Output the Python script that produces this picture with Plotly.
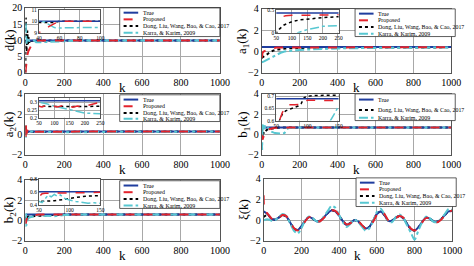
import plotly.graph_objects as go

# ---------------- data ----------------
SERIES_NAMES = ["True", "Proposed", "Dong, Liu, Wang, Bao, & Cao, 2017", "Karra, & Karim, 2009"]
X_TICKS = [0, 200, 400, 600, 800, 1000]
K_ENDS = [0, 1000]

# d(k)
D_TRUE = [10, 10]
D_PROP_K = [0, 3, 6, 10, 15, 20, 30, 40, 45, 50, 55, 60, 100, 1000]
D_PROP = [0, 2.2, 4.0, 5.5, 6.6, 7.4, 8.4, 9.0, 9.3, 9.55, 9.8, 10.0, 10.0, 10.0]
D_DONG_K = [0, 2, 4, 6, 8, 10, 13, 16, 20, 25, 30, 40, 55, 60, 1000]
D_DONG = [0, 17, 12.5, 6.5, 10.5, 13, 8.5, 11, 9.3, 10.4, 9.8, 9.9, 9.9, 10, 10]
D_KARRA_K = [0, 2, 4, 6, 8, 12, 16, 20, 30, 40, 45, 55, 60, 80, 100, 200, 300, 1000]
D_KARRA = [15, 15, 11, 9, 10.5, 9.5, 10.2, 9.8, 10.1, 10.0, 9.95, 9.45, 9.42, 9.45, 9.5, 9.8, 10, 10]

# a1(k)
A1_TRUE = [0.43, 0.43]
A1_PROP_K = [0, 2, 5, 10, 20, 30, 40, 50, 60, 80, 100, 250, 1000]
A1_PROP = [-0.6, -0.3, -0.1, 0.0, 0.1, 0.18, 0.24, 0.28, 0.33, 0.37, 0.38, 0.39, 0.40]
A1_DONG_K = [0, 5, 10, 20, 30, 40, 50, 60, 75, 100, 125, 150, 200, 250, 400, 1000]
A1_DONG = [-0.6, -0.55, -0.5, -0.4, -0.25, -0.1, 0.0, 0.08, 0.17, 0.24, 0.28, 0.30, 0.33, 0.35, 0.37, 0.39]
A1_KARRA_K = [0, 5, 10, 20, 30, 50, 75, 100, 120, 150, 200, 250, 300, 400, 600, 1000]
A1_KARRA = [-1.0, -1.0, -0.95, -0.85, -0.75, -0.55, -0.3, -0.12, 0.0, 0.07, 0.14, 0.19, 0.23, 0.29, 0.34, 0.38]

# a2(k)
A2_TRUE = [0.31, 0.31]
A2_PROP_K = [0, 1, 2, 3, 4, 5, 7, 10, 15, 20, 30, 40, 50, 60, 75, 90, 100, 110, 125, 140, 150, 160, 175, 190, 200, 210, 225, 240, 250, 300, 1000]
A2_PROP = [0, 1.2, -0.2, 0.9, 0.0, 0.6, 0.1, 0.45, 0.2, 0.33, 0.26, 0.28, 0.275, 0.27, 0.28, 0.27, 0.275, 0.27, 0.278, 0.27, 0.275, 0.268, 0.276, 0.27, 0.275, 0.28, 0.285, 0.295, 0.305, 0.31, 0.31]
A2_DONG_K = [0, 1, 2, 3, 5, 8, 12, 20, 30, 50, 100, 150, 200, 250, 400, 1000]
A2_DONG = [0, 0.9, 0.1, 0.6, 0.2, 0.4, 0.25, 0.3, 0.27, 0.275, 0.272, 0.27, 0.272, 0.275, 0.29, 0.305]
A2_KARRA_K = [0, 1, 2, 3, 5, 8, 12, 20, 30, 50, 75, 100, 150, 200, 250, 300, 500, 1000]
A2_KARRA = [0, 0.5, -0.3, 0.4, 0.1, 0.35, 0.25, 0.32, 0.3, 0.30, 0.29, 0.275, 0.25, 0.23, 0.225, 0.24, 0.28, 0.3]

# b1(k)
B1_TRUE = [0.69, 0.69]
B1_PROP_K = [0, 2, 4, 6, 10, 15, 20, 30, 40, 50, 55, 60, 65, 70, 80, 90, 95, 100, 120, 150, 1000]
B1_PROP = [0, -0.3, -0.5, -0.4, -0.15, 0.15, 0.35, 0.5, 0.56, 0.585, 0.6, 0.635, 0.65, 0.665, 0.665, 0.668, 0.675, 0.684, 0.683, 0.685, 0.688]
B1_DONG_K = [0, 2, 4, 6, 10, 15, 20, 30, 40, 50, 55, 60, 65, 70, 75, 80, 85, 90, 95, 100, 110, 130, 150, 300, 1000]
B1_DONG = [0, 0.6, -0.4, 0.3, 0.1, 0.4, 0.35, 0.5, 0.55, 0.58, 0.6, 0.628, 0.64, 0.645, 0.65, 0.655, 0.66, 0.67, 0.695, 0.7, 0.703, 0.704, 0.705, 0.695, 0.69]
B1_KARRA_K = [0, 2, 4, 6, 10, 15, 20, 30, 40, 50, 70, 100, 120, 130, 137, 145, 150, 170, 200, 1000]
B1_KARRA = [1.0, -1.5, 0.3, 1.0, 0.5, 0.9, 0.6, 0.75, 0.5, 0.3, 0.15, 0.1, 0.15, 0.4, 0.6, 0.635, 0.66, 0.69, 0.69, 0.69]

# b2(k)
B2_TRUE = [0.6, 0.6]
B2_PROP_K = [0, 2, 4, 6, 10, 15, 20, 30, 40, 48, 50, 55, 60, 80, 100, 150, 1000]
B2_PROP = [0, -0.3, -0.1, 0.1, 0.25, 0.35, 0.42, 0.48, 0.5, 0.5, 0.52, 0.57, 0.575, 0.58, 0.585, 0.59, 0.6]
B2_DONG_K = [0, 2, 4, 6, 10, 15, 20, 30, 40, 50, 60, 75, 90, 100, 110, 126, 140, 150, 200, 300, 1000]
B2_DONG = [0, 0.5, 0.2, 0.45, 0.3, 0.4, 0.38, 0.42, 0.44, 0.45, 0.455, 0.46, 0.48, 0.5, 0.51, 0.53, 0.55, 0.57, 0.58, 0.6, 0.6]
B2_KARRA_K = [0, 2, 3, 5, 8, 12, 20, 30, 40, 50, 55, 60, 65, 70, 75, 80, 85, 90, 95, 100, 110, 120, 130, 140, 150, 200, 300, 1000]
B2_KARRA = [0, -0.6, 0.7, -0.5, -0.2, 0.1, 0.3, 0.35, 0.4, 0.45, 0.43, 0.5, 0.55, 0.52, 0.56, 0.53, 0.55, 0.5, 0.48, 0.47, 0.45, 0.43, 0.42, 0.43, 0.42, 0.55, 0.6, 0.6]

# xi(k)
XI_K = list(range(0, 1001, 20))
XI_TRUE = [0.85, 0.6, 0.15, 0.05, 0.25, 0.5, 0.35, -0.2, -0.8, -0.95, -0.6, -0.05, 0.3, 0.15, -0.1, -0.05, 0.3, 0.7, 0.95, 0.85,
           0.45, -0.1, -0.45, -0.25, 0.0, -0.1, -0.5, -0.8, -0.65, -0.05, 0.6, 0.85, 0.5, -0.05, -0.05, 0.25, 0.4, 0.2, -0.35, -0.85,
           -1.0, -0.7, -0.15, 0.25, 0.15, -0.1, -0.15, 0.1, 0.5, 0.85, 0.9]
XI_PROP_K = [0, 2, 5, 10] + list(range(20, 1001, 20))
XI_PROP = [2.4, 1.1, 0.9, 0.8,
           0.65, 0.2, 0.0, 0.2, 0.5, 0.4, -0.15, -0.75, -1.0, -0.7, -0.1, 0.3, 0.2, -0.1, -0.1, 0.25, 0.65, 0.95, 0.9, 0.5,
           -0.05, -0.4, -0.3, 0.0, -0.05, -0.45, -0.8, -0.7, -0.15, 0.5, 0.85, 0.6, 0.0, -0.1, 0.2, 0.4, 0.25, -0.3, -0.8, -1.0,
           -0.8, -0.2, 0.2, 0.2, -0.05, -0.2, 0.05, 0.45, 0.8, 0.95]
XI_DONG = [0.3, 0.55, 0.2, 0.05, 0.25, 0.5, 0.35, -0.2, -0.8, -0.95, -0.6, -0.05, 0.3, 0.15, -0.1, -0.05, 0.3, 0.7, 0.95, 0.85,
           0.45, -0.1, -0.45, -0.25, 0.0, -0.1, -0.5, -0.8, -0.65, -0.05, 0.6, 0.85, 0.5, -0.05, -0.05, 0.25, 0.4, 0.2, -0.35, -0.85,
           -1.0, -0.7, -0.15, 0.25, 0.15, -0.1, -0.15, 0.1, 0.5, 0.85, 0.9]
XI_KARRA = [0.0, 0.1, -0.05, 0.0, 0.3, 0.6, 0.4, -0.3, -1.0, -1.3, -0.8, 0.0, 0.35, 0.2, -0.1, -0.1, 0.4, 0.9, 1.4, 1.2,
            0.5, -0.2, -0.65, -0.35, 0.05, -0.15, -0.6, -1.0, -0.8, -0.1, 0.8, 1.1, 0.6, -0.1, -0.2, 0.3, 0.55, 0.25, -0.5, -1.2,
            -1.9, -1.0, -0.2, 0.35, 0.2, -0.15, -0.2, 0.15, 0.6, 1.1, 1.0]

# ---------------- styles / layout ----------------
W, H = 474, 266
SERIF = "Liberation Serif"
STY = {
    "true": dict(color="#1f3d9e", dash="solid"),
    "prop": dict(color="#e3232c", dash="dash"),
    "dong": dict(color="#000000", dash="dot"),
    "karra": dict(color="#57c7d1", dash="dashdot"),
}
LEG_KEYS = ["true", "prop", "dong", "karra"]


def px(x):
    return x / W


def py(y):
    return 1 - y / H


panels = [
    dict(dom=(23, 223, 2, 70), yr=[0, 20], yt=[0, 5, 10, 15, 20], title="d(k)", tx=7,
         series=[("dong", D_DONG_K, D_DONG), ("true", K_ENDS, D_TRUE), ("karra", D_KARRA_K, D_KARRA), ("prop", D_PROP_K, D_PROP)],
         inset=dict(dom=(37, 100, 4, 28), xr=[40, 100], xt=[40, 60, 80, 100], yr=[9, 11], yt=[9, 10, 11]),
         legend=(120, 2, 30, [0, 1, 2, 3], [5, 12, 19, 26])),
    dict(dom=(266, 461, 3, 70), yr=[-2, 4], yt=[-2, 0, 2, 4], title="a<sub>1</sub>(k)", tx=247,
         series=[("dong", A1_DONG_K, A1_DONG), ("true", K_ENDS, A1_TRUE), ("karra", A1_KARRA_K, A1_KARRA), ("prop", A1_PROP_K, A1_PROP)],
         inset=dict(dom=(281, 345, 4, 28), xr=[50, 250], xt=[50, 100, 150, 200, 250], yr=[0, 0.5], yt=[0, 0.5]),
         legend=(362, 3, 29, [0, 1, 2, 3], [5, 12, 19, 26])),
    dict(dom=(23, 223, 92, 156), yr=[-2, 4], yt=[-2, 0, 2, 4], title="a<sub>2</sub>(k)", tx=7,
         series=[("dong", A2_DONG_K, A2_DONG), ("true", K_ENDS, A2_TRUE), ("karra", A2_KARRA_K, A2_KARRA), ("prop", A2_PROP_K, A2_PROP)],
         inset=dict(dom=(37, 100, 96, 117), xr=[50, 250], xt=[50, 100, 150, 200, 250], yr=[0.2, 0.33], yt=[0.2, 0.25, 0.3]),
         legend=(120, 93, 28, [0, 1, 2, 3], [5, 12, 19, 25])),
    dict(dom=(266, 461, 92, 156), yr=[-2, 4], yt=[-2, 0, 2, 4], title="b<sub>1</sub>(k)", tx=247,
         series=[("dong", B1_DONG_K, B1_DONG), ("true", K_ENDS, B1_TRUE), ("karra", B1_KARRA_K, B1_KARRA), ("prop", B1_PROP_K, B1_PROP)],
         inset=dict(dom=(281, 345, 92, 120), xr=[50, 150], xt=[50, 100, 150], yr=[0.6, 0.71], yt=[0.6, 0.65, 0.7]),
         legend=(362, 92, 28, [0, 2, 3], [6, 17, 25])),
    dict(dom=(23, 223, 182, 246), yr=[-2, 4], yt=[-2, 0, 2, 4], title="b<sub>2</sub>(k)", tx=7,
         series=[("dong", B2_DONG_K, B2_DONG), ("true", K_ENDS, B2_TRUE), ("karra", B2_KARRA_K, B2_KARRA), ("prop", B2_PROP_K, B2_PROP)],
         inset=dict(dom=(37, 100, 181, 208), xr=[50, 150], xt=[50, 100, 150], yr=[0.4, 0.8], yt=[0.4, 0.6, 0.8]),
         legend=(120, 183, 29, [0, 1, 2, 3], [5, 12, 19, 26])),
    dict(dom=(268, 462, 181, 246), yr=[-2, 4], yt=[-2, 0, 2, 4], title="ξ(k)", tx=248,
         series=[("dong", XI_K, XI_DONG), ("true", XI_K, XI_TRUE), ("karra", XI_K, XI_KARRA), ("prop", XI_PROP_K, XI_PROP)],
         inset=None,
         legend=(363, 180, 30, [0, 1, 2, 3], [5, 12, 19, 26])),
]

fig = go.Figure()
layout = dict(width=W, height=H, margin=dict(l=0, r=0, t=0, b=0), autosize=False,
              paper_bgcolor="white", plot_bgcolor="white", showlegend=False)
annotations = []
shapes = []

AX_COMMON = dict(showgrid=True, gridcolor="#a8a8a8", gridwidth=1, zeroline=False,
                 showline=True, mirror=True, linecolor="#555555", linewidth=1, ticks="",
                 ticklabeloverflow="allow")


def add_axes(idx, dom, xr, xt, yr, yt, fsize, lw, series, smooth):
    sfx = "" if idx == 1 else str(idx)
    x0, x1, y0, y1 = dom
    layout["xaxis" + sfx] = dict(domain=[px(x0), px(x1)], range=xr, tickvals=xt, anchor="y" + sfx,
                                 tickfont=dict(family=SERIF, size=fsize, color="black"), **AX_COMMON)
    layout["yaxis" + sfx] = dict(domain=[py(y1), py(y0)], range=yr, tickvals=yt, anchor="x" + sfx,
                                 tickfont=dict(family=SERIF, size=fsize, color="black"), **AX_COMMON)
    for key, k, v in series:
        fig.add_trace(go.Scatter(x=k, y=v, xaxis="x" + sfx, yaxis="y" + sfx, mode="lines",
                                 line=dict(color=STY[key]["color"], dash=STY[key]["dash"], width=lw,
                                           shape="spline" if smooth else "linear", smoothing=0.6),
                                 hoverinfo="skip"))


for i, p in enumerate(panels):
    add_axes(i + 1, p["dom"], [0, 1000], X_TICKS, p["yr"], p["yt"], 10, 2, p["series"], i == 5)
    x0, x1, y0, y1 = p["dom"]
    annotations.append(dict(text=p["title"], x=px(p["tx"]), y=py((y0 + y1) / 2), xref="paper", yref="paper",
                            textangle=-90, showarrow=False, font=dict(family=SERIF, size=13, color="black"),
                            xanchor="center", yanchor="middle"))
    annotations.append(dict(text="k", x=px((x0 + x1) / 2), y=py(y1 + 15), xref="paper", yref="paper",
                            showarrow=False, font=dict(family=SERIF, size=13, color="black"),
                            xanchor="center", yanchor="middle"))
    # legend box drawn as shapes + text
    lx, ly, lh, items, offs = p["legend"]
    lw_box = 103
    shapes.append(dict(type="rect", xref="paper", yref="paper", x0=px(lx), x1=px(lx + lw_box), y0=py(ly + lh), y1=py(ly),
                       line=dict(color="#333333", width=0.8), fillcolor="white", layer="above"))
    for it, off in zip(items, offs):
        key = LEG_KEYS[it]
        shapes.append(dict(type="line", xref="paper", yref="paper", x0=px(lx + 4), x1=px(lx + 19),
                           y0=py(ly + off), y1=py(ly + off), layer="above",
                           line=dict(color=STY[key]["color"], dash=STY[key]["dash"], width=2)))
        annotations.append(dict(text=SERIES_NAMES[it], x=px(lx + 22), y=py(ly + off), xref="paper", yref="paper",
                                showarrow=False, xanchor="left", yanchor="middle",
                                font=dict(family=SERIF, size=5.9, color="black")))

for i, p in enumerate(panels):
    ins = p["inset"]
    if ins is None:
        continue
    add_axes(7 + i, ins["dom"], ins["xr"], ins["xt"], ins["yr"], ins["yt"], 5.5, 1.5, p["series"], False)

layout["annotations"] = annotations
layout["shapes"] = shapes
fig.update_layout(**layout)
fig.write_html("out.html")
